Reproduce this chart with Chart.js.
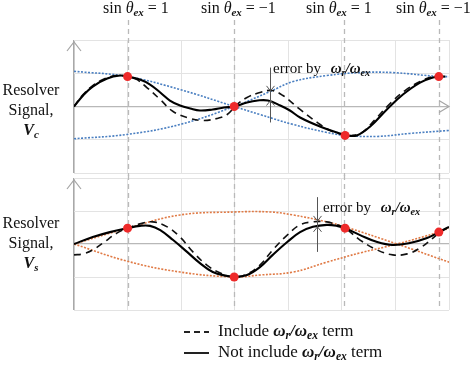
<!DOCTYPE html>
<html><head><meta charset="utf-8">
<script src="https://cdn.jsdelivr.net/npm/chart.js@4.4.1/dist/chart.umd.min.js"></script>
<style>
html,body{margin:0;padding:0;background:#fff;width:474px;height:387px;overflow:hidden;}
#wrap{position:relative;width:474px;height:387px;}
canvas{position:absolute;left:0;top:0;}
.t{position:absolute;font-family:"Liberation Serif","Times New Roman",serif;color:#111;white-space:nowrap;}
.hd{font-size:16px;line-height:18px;top:-1px;}
.m{font-style:italic;}
.mb{font-style:italic;font-weight:bold;}
.sb{font-size:0.68em;vertical-align:-0.28em;line-height:0;font-style:italic;font-weight:bold;}
.side{left:0;width:62px;text-align:center;font-size:16px;line-height:20px;}
.err{font-size:15px;line-height:18px;}
.leg{left:218px;top:320px;font-size:17px;line-height:21px;}
.sym{position:absolute;left:184px;width:25px;height:1.5px;}
</style></head>
<body><div id="wrap">
<canvas id="c1" width="474" height="387"></canvas>
<canvas id="c2" width="474" height="387"></canvas>

<div class="t hd" style="left:103px">sin <span class="m">θ</span><span class="sb">ex</span> = 1</div>
<div class="t hd" style="left:201px">sin <span class="m">θ</span><span class="sb">ex</span> = −1</div>
<div class="t hd" style="left:306px">sin <span class="m">θ</span><span class="sb">ex</span> = 1</div>
<div class="t hd" style="left:396px">sin <span class="m">θ</span><span class="sb">ex</span> = −1</div>

<div class="t side" style="top:80px">Resolver<br>Signal,<br><span class="mb">V</span><span class="sb">c</span></div>
<div class="t side" style="top:213px">Resolver<br>Signal,<br><span class="mb">V</span><span class="sb">s</span></div>

<div class="t err" style="left:273px;top:59px">error by <span class="mb" style="margin-left:6px">ω</span><span class="sb">r</span><span class="mb">/ω</span><span class="sb">ex</span></div>
<div class="t err" style="left:323px;top:198px">error by <span class="mb" style="margin-left:6px">ω</span><span class="sb">r</span><span class="mb">/ω</span><span class="sb">ex</span></div>

<div class="sym" style="top:331px;background:repeating-linear-gradient(90deg,#222 0 6px,transparent 6px 10px);"></div>
<div class="sym" style="top:352px;background:#222;"></div>
<div class="t leg">Include <span class="mb">ω</span><span class="sb">r</span><span class="mb">/ω</span><span class="sb">ex</span> term<br>Not include <span class="mb">ω</span><span class="sb">r</span><span class="mb">/ω</span><span class="sb">ex</span> term</div>
</div>
<script>
// ---------- data (x in grid units 0..7, y in signal units) ----------
const carrierPeaks = [1.0, 2.99, 5.04, 6.81];

// Top panel: Vc
const vcSolidX = [0,0.17,0.35,0.62,0.86,1.0,1.23,1.42,1.61,1.79,1.98,2.17,2.35,2.59,2.80,2.99,3.23,3.43,3.62,3.85,4.03,4.22,4.59,4.91,5.10,5.28,5.53,5.84,6.14,6.46,6.70,6.83,6.93];
const vcSolidY = [0,0.33,0.60,0.84,0.93,0.90,0.81,0.66,0.42,0.18,0.03,-0.06,-0.12,-0.09,-0.03,0,0.12,0.18,0.18,0.03,-0.12,-0.33,-0.60,-0.78,-0.87,-0.87,-0.60,-0.09,0.36,0.72,0.87,0.90,0.90];
const vcDashX = [0,0.17,0.35,0.54,0.77,0.91,1.14,1.36,1.61,1.85,2.17,2.41,2.67,2.86,3.04,3.23,3.47,3.70,3.90,4.22,4.54,4.78,5.02,5.19,5.38,5.62,5.90,6.18,6.46,6.70,6.93];
const vcDashY = [0,0.36,0.63,0.81,0.93,0.93,0.84,0.57,0.21,-0.15,-0.36,-0.42,-0.36,-0.24,0.06,0.27,0.42,0.48,0.33,-0.09,-0.48,-0.72,-0.84,-0.87,-0.78,-0.39,0.09,0.48,0.75,0.90,0.93];
const vcEnvAX = [0,1.0,1.98,2.99,3.47,4.09,4.72,5.08,5.66,6.27,7.0];
const vcEnvAY = [1.06,0.9,0.51,0,-0.24,-0.54,-0.78,-0.87,-0.9,-0.81,-0.72];
const vcEnvBX = [0,0.99,1.98,2.99,3.66,4.09,4.72,5.34,5.95,6.81,7.0];
const vcEnvBY = [-0.97,-0.84,-0.54,0,0.45,0.75,0.93,1.02,1.02,0.9,0.9];
const vcDotX = [1.0,2.99,5.06,6.81];
const vcDotY = [0.9,0,-0.87,0.9];
const vcErr = {x:3.66, top:1.17, bottom:-0.48, upper:0.47, lower:0.18};

// Bottom panel: Vs
const vsSolidX = [0,0.35,0.67,1.0,1.23,1.42,1.61,1.85,2.11,2.35,2.59,2.86,2.99,3.23,3.47,3.71,3.98,4.22,4.46,4.72,4.91,5.06,5.34,5.66,5.95,6.27,6.59,6.81,7.0];
const vsSolidY = [0,0.21,0.36,0.48,0.55,0.55,0.42,0.12,-0.24,-0.58,-0.85,-0.97,-1.0,-0.94,-0.70,-0.33,0.06,0.36,0.52,0.58,0.55,0.48,0.27,0.06,-0.03,0.03,0.18,0.36,0.52];
const vsDashX = [0,0.17,0.35,0.54,0.80,1.0,1.23,1.47,1.74,1.98,2.22,2.48,2.73,2.99,3.23,3.47,3.71,3.98,4.22,4.46,4.72,4.91,5.06,5.34,5.66,5.95,6.22,6.46,6.70,6.81,6.96];
const vsDashY = [-0.33,-0.30,-0.18,0.03,0.33,0.48,0.61,0.67,0.52,0.21,-0.24,-0.64,-0.88,-1.0,-0.91,-0.64,-0.18,0.27,0.58,0.67,0.67,0.58,0.48,0.12,-0.18,-0.33,-0.30,-0.12,0.18,0.33,0.48];
const vsEnvCX = [0,1.0,1.98,2.99,3.66,4.09,4.72,5.06,6.03,7.0];
const vsEnvCY = [0,0.48,0.88,0.97,0.97,0.88,0.67,0.52,0,-0.55];
const vsEnvDX = [0,0.99,1.98,2.99,3.47,4.09,4.72,5.34,6.03,6.81,7.0];
const vsEnvDY = [0,-0.52,-0.85,-1.0,-0.94,-0.85,-0.55,-0.27,0,0.36,0.48];
const vsDotX = [1.0,2.99,5.06,6.81];
const vsDotY = [0.48,-1.0,0.48,0.36];
const vsErr = {x:4.54, top:1.42, bottom:-0.24, upper:0.70, lower:0.52};

// ---------- helpers ----------
const pts = (xs, ys) => xs.map((x, i) => ({x, y: ys[i]}));
const lineDs = (xs, ys, color, width, dash) => ({
  type:'line', data: pts(xs, ys), borderColor: color, borderWidth: width,
  borderDash: dash, pointRadius: 0, fill: false, tension: 0.4
});
const dotDs = (xs, ys) => ({
  type:'scatter', data: pts(xs, ys), pointRadius: 4.5, pointBackgroundColor:'#ee2a2a',
  pointBorderWidth: 0, borderWidth: 0
});

const overlay = {
  id:'overlay',
  beforeDatasetsDraw(chart, args, o){
    const {ctx, chartArea:a, scales:{x, y}} = chart;
    ctx.save();
    ctx.strokeStyle = '#b9b9b9'; ctx.lineWidth = 1.3; ctx.setLineDash([5,4]);
    carrierPeaks.forEach(v => {
      const px = Math.round(x.getPixelForValue(v)) + 0.5;
      ctx.beginPath(); ctx.moveTo(px, a.top - o.extTop); ctx.lineTo(px, a.bottom + o.extBottom); ctx.stroke();
    });
    ctx.setLineDash([]);
    const x0 = x.getPixelForValue(0);
    ctx.strokeStyle = '#a5a5a5'; ctx.lineWidth = 1.2;
    ctx.beginPath(); ctx.moveTo(x0 - 7, a.top + 11); ctx.lineTo(x0, a.top + 2); ctx.lineTo(x0 + 7, a.top + 11); ctx.stroke();
    if (o.xArrow) {
      const y0 = y.getPixelForValue(0), xr = a.right;
      ctx.beginPath(); ctx.moveTo(xr - 10, y0 - 6); ctx.lineTo(xr, y0); ctx.lineTo(xr - 10, y0 + 6); ctx.stroke();
    }
    ctx.restore();
  },
  afterDatasetsDraw(chart, args, o){
    const e = o.err; if (!e) return;
    const {ctx, scales:{x, y}} = chart;
    const px = Math.round(x.getPixelForValue(e.x)) + 0.5;
    const yt = y.getPixelForValue(e.top), yb = y.getPixelForValue(e.bottom);
    const yu = y.getPixelForValue(e.upper), yl = y.getPixelForValue(e.lower);
    ctx.save();
    ctx.strokeStyle = '#555'; ctx.lineWidth = 1;
    ctx.beginPath(); ctx.moveTo(px, yt); ctx.lineTo(px, yb); ctx.stroke();
    ctx.beginPath(); ctx.moveTo(px - 4, yu - 5); ctx.lineTo(px, yu); ctx.lineTo(px + 4, yu - 5); ctx.stroke();
    ctx.beginPath(); ctx.moveTo(px - 4, yl + 5); ctx.lineTo(px, yl); ctx.lineTo(px + 4, yl + 5); ctx.stroke();
    ctx.restore();
  }
};

const scales = () => ({
  x: { type:'linear', min:0, max:7,
       ticks:{display:false, stepSize:1},
       grid:{drawTicks:false,
             color: c => c.tick && c.tick.value === 0 ? '#a8a8a8' : '#e3e3e3',
             lineWidth: c => c.tick && c.tick.value === 0 ? 1.6 : 1},
       border:{display:false} },
  y: { type:'linear', min:-2, max:2,
       ticks:{display:false, stepSize:1},
       grid:{drawTicks:false,
             color: c => c.tick && c.tick.value === 0 ? '#b8b8b8' : '#e3e3e3',
             lineWidth: c => c.tick && c.tick.value === 0 ? 1.3 : 1},
       border:{display:false} }
});

function makeChart(id, datasets, padding, ov){
  return new Chart(document.getElementById(id), {
    type:'line',
    data:{ datasets },
    options:{
      responsive:false, animation:false, devicePixelRatio:1,
      layout:{ padding },
      scales: scales(),
      plugins:{ legend:{display:false}, tooltip:{enabled:false}, overlay: ov }
    },
    plugins:[overlay]
  });
}

makeChart('c1', [
  dotDs(vcDotX, vcDotY),
  lineDs(vcSolidX, vcSolidY, '#000', 2.1, []),
  lineDs(vcDashX, vcDashY, '#111', 1.6, [7,5]),
  lineDs(vcEnvAX, vcEnvAY, '#4a7fc1', 1.6, [2,1.5]),
  lineDs(vcEnvBX, vcEnvBY, '#4a7fc1', 1.6, [2,1.5])
], {left:74, right:25, top:40, bottom:214}, {extTop:20, extBottom:3, xArrow:true, err: vcErr});

makeChart('c2', [
  dotDs(vsDotX, vsDotY),
  lineDs(vsSolidX, vsSolidY, '#000', 2.1, []),
  lineDs(vsDashX, vsDashY, '#111', 1.6, [7,5]),
  lineDs(vsEnvCX, vsEnvCY, '#e07a45', 1.6, [2,1.5]),
  lineDs(vsEnvDX, vsEnvDY, '#e07a45', 1.6, [2,1.5])
], {left:74, right:25, top:178, bottom:77}, {extTop:3, extBottom:0, xArrow:false, err: vsErr});
</script>
</body></html>
